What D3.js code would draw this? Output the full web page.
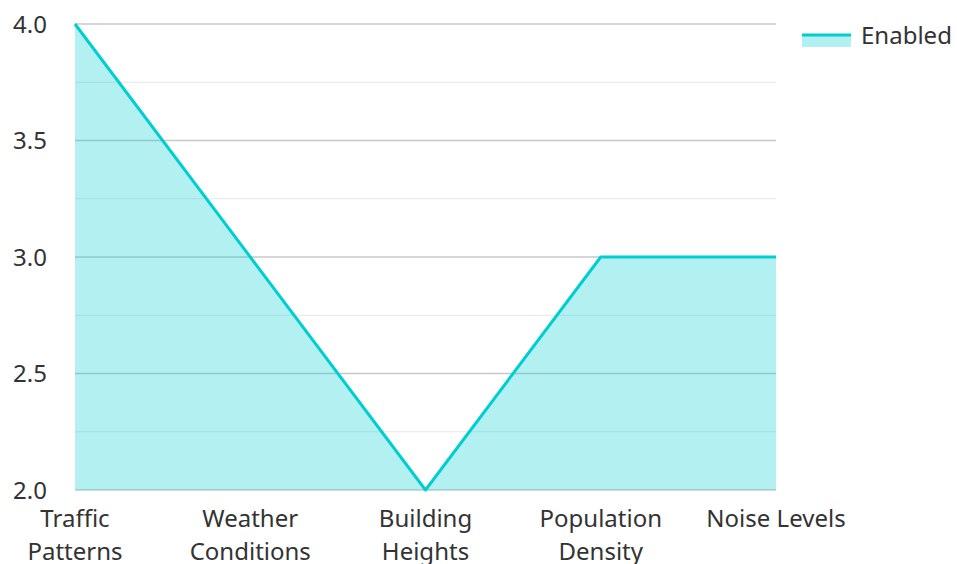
<!DOCTYPE html>
<html>
<head>
<meta charset="utf-8">
<script src="https://cdn.jsdelivr.net/npm/d3@7"></script>
<style>
  body { margin: 0; background: #fff; }
  text { font-family: "Noto Sans", sans-serif; fill: #333; }
</style>
</head>
<body>
<script>
// data
var categories = [["Traffic", "Patterns"], ["Weather", "Conditions"], ["Building", "Heights"], ["Population", "Density"], ["Noise Levels"]]
var values = [4, 3, 2, 3, 3]
var yTicks = [2.0, 2.5, 3.0, 3.5, 4.0]
var yMinor = [2.25, 2.75, 3.25, 3.75]
var seriesName = "Enabled"

var width = 957, height = 564
var margin = { top: 24, right: 181, bottom: 74, left: 75 }

var svg = d3.select("body").append("svg")
    .attr("width", width)
    .attr("height", height)

var xScale = d3.scalePoint()
    .domain(d3.range(categories.length))
    .range([margin.left, width - margin.right])

var yScale = d3.scaleLinear()
    .domain([2, 4])
    .range([height - margin.bottom, margin.top])

// grid lines
svg.append("g").selectAll("line")
    .data(yMinor)
    .join("line")
    .attr("x1", margin.left).attr("x2", width - margin.right)
    .attr("y1", d => yScale(d)).attr("y2", d => yScale(d))
    .attr("stroke", "#e6e6e6").attr("stroke-width", 1)

svg.append("g").selectAll("line")
    .data(yTicks)
    .join("line")
    .attr("x1", margin.left).attr("x2", width - margin.right)
    .attr("y1", d => yScale(d)).attr("y2", d => yScale(d))
    .attr("stroke", "#c8c8c8").attr("stroke-width", 1.5)

// area + line
var area = d3.area()
    .x((d, i) => xScale(i))
    .y0(yScale(2))
    .y1(d => yScale(d))

var line = d3.line()
    .x((d, i) => xScale(i))
    .y(d => yScale(d))

svg.append("path")
    .datum(values)
    .attr("d", area)
    .attr("fill", "#00ced1")
    .attr("fill-opacity", 0.3)

svg.append("path")
    .datum(values)
    .attr("d", line)
    .attr("fill", "none")
    .attr("stroke", "#00ced1")
    .attr("stroke-width", 3)
    .attr("stroke-linejoin", "round")

// y axis labels
svg.append("g").selectAll("text")
    .data(yTicks)
    .join("text")
    .attr("x", 47)
    .attr("y", d => yScale(d))
    .attr("dy", "0.36em")
    .attr("text-anchor", "end")
    .style("font-size", "24px")
    .text(d => d.toFixed(1))

// x axis labels
var xl = svg.append("g").selectAll("text")
    .data(categories)
    .join("text")
    .attr("text-anchor", "middle")
    .attr("y", 527)
    .style("font-size", "24px")

xl.selectAll("tspan")
    .data(d => d)
    .join("tspan")
    .attr("x", function () { return xScale(categories.indexOf(d3.select(this.parentNode).datum())) })
    .attr("dy", (d, i) => i === 0 ? 0 : 32.5)
    .text(d => d)

// legend
var legend = svg.append("g").attr("transform", "translate(802,35)")
legend.append("rect")
    .attr("x", 0).attr("y", 0).attr("width", 49).attr("height", 12)
    .attr("fill", "#00ced1").attr("fill-opacity", 0.3)
legend.append("line")
    .attr("x1", 0).attr("x2", 49).attr("y1", 0).attr("y2", 0)
    .attr("stroke", "#00ced1").attr("stroke-width", 3)
legend.append("text")
    .attr("x", 59).attr("y", 0)
    .attr("dy", "0.36em")
    .style("font-size", "24px")
    .text(seriesName)
</script>
</body>
</html>
